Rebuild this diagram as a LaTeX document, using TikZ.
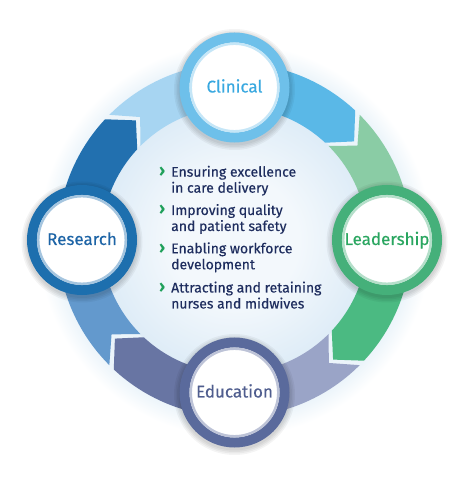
\documentclass[tikz,border=0pt]{standalone}
\usepackage{fontspec}
\setmainfont{Fira Sans}
\newfontfamily\medfont[FakeBold=0.35]{Fira Sans}
\definecolor{halo}{HTML}{EBF4FA}
\definecolor{innerC}{HTML}{F3F8FC}
\definecolor{innerE}{HTML}{DEECF7}
\definecolor{resOut}{HTML}{2270AF}
\definecolor{resIn}{HTML}{6399CD}
\definecolor{clinOut}{HTML}{5AB8E7}
\definecolor{clinIn}{HTML}{A7D5F2}
\definecolor{leadOut}{HTML}{4BBA82}
\definecolor{leadIn}{HTML}{8ACCA5}
\definecolor{eduOut}{HTML}{6875A3}
\definecolor{eduIn}{HTML}{9AA4C7}
\definecolor{resB}{HTML}{1D6FAE}
\definecolor{clinB}{HTML}{6EC0EA}
\definecolor{leadB}{HTML}{45B07A}
\definecolor{eduB}{HTML}{5A6A9C}
\definecolor{resT}{HTML}{1D64A6}
\definecolor{clinT}{HTML}{38A8E0}
\definecolor{leadT}{HTML}{2AA660}
\definecolor{eduT}{HTML}{4F5D8E}
\definecolor{navy}{HTML}{1E2D5E}
\definecolor{bulgreen}{HTML}{1FA05A}
\pgfdeclareradialshading{haloshade}{\pgfpoint{0bp}{0bp}}{color(0bp)=(halo); color(22.3bp)=(halo); color(25bp)=(white); color(50bp)=(white)}
\pgfdeclareradialshading{innershade}{\pgfpoint{0bp}{0bp}}{color(0bp)=(innerC); color(12bp)=(innerC); color(25bp)=(innerE); color(50bp)=(innerE)}
\newcommand\outband[2]{\fill[#2] ({#1}:177) arc[start angle={#1}, end angle={#1-43}, radius=177] -- ({#1-50.5}:155) -- ({#1-43}:133) arc[start angle={#1-43}, end angle={#1}, radius=133] -- cycle;}
\newcommand\inband[2]{\fill[#2] ({#1-45}:177) arc[start angle={#1-45}, end angle={#1-90}, radius=177] -- ({#1-90}:133) arc[start angle={#1-90}, end angle={#1-45}, radius=133] -- ({#1-52.5}:155) -- cycle;}
\begin{document}
\begin{tikzpicture}[x=1pt,y=1pt,
  circ/.style={circle, minimum size=100pt, inner sep=0pt, line width=10pt, fill=white,
    font=\medfont\fontsize{17}{19}\selectfont, text height=10pt, text depth=0pt},
  item/.style={anchor=base west, font=\medfont\fontsize{14}{16}\selectfont, text=navy, inner sep=0pt},
  bul/.style={anchor=base west, font=\bfseries\fontsize{17}{18}\selectfont, text=bulgreen, inner sep=0pt},
  shad/.style={fill=black, opacity=0.045}]
\useasboundingbox (0,0) rectangle (473,479);
\fill[white] (0,0) rectangle (473,479);
\coordinate (O) at (234.5,239);
\shade[shading=haloshade] (O) circle[radius=197];
\shade[shading=innershade] (O) circle[radius=134];
\begin{scope}[shift={(O)}]
  \inband{180}{clinIn}
  \inband{90}{leadIn}
  \inband{0}{eduIn}
  \inband{-90}{resIn}
  \outband{180}{resOut}
  \outband{90}{clinOut}
  \outband{0}{leadOut}
  \outband{-90}{eduOut}
\end{scope}
\coordinate (pC) at (234.5,391.5);
\coordinate (pL) at (387,239);
\coordinate (pE) at (234.5,86.5);
\coordinate (pR) at (82,239);
\foreach \p in {pC,pL,pE,pR}{
  \foreach \r in {56,57.5,59,60.5}{
    \fill[shad] ([yshift=-2]\p) circle[radius=\r];
  }
}
\node[circ, draw=clinB, text=clinT] (clin) at (pC) {Clinical};
\node[circ, draw=leadB, text=leadT] (lead) at (pL) {Leadership};
\node[circ, draw=eduB, text=eduT] (edu) at (pE) {Education};
\node[circ, draw=resB, text=resT] (res) at (pR) {Research};
\draw[clinB!40!white, line width=2.5pt] (clin.center) circle[radius=43.8];
\draw[leadB!40!white, line width=2.5pt] (lead.center) circle[radius=43.8];
\draw[eduB!40!white, line width=2.5pt] (edu.center) circle[radius=43.8];
\draw[resB!40!white, line width=2.5pt] (res.center) circle[radius=43.8];
% bullets
\node[bul] (g1) at (159,302.3) {›};
\node[item] (t1a) at (171,302.3) {Ensuring excellence};
\node[item] (t1b) at (171,286.3) {in care delivery};
\node[bul] (g2) at (159,264) {›};
\node[item] (t2a) at (171,264) {Improving quality};
\node[item] (t2b) at (171,248) {and patient safety};
\node[bul] (g3) at (159,225.7) {›};
\node[item] (t3a) at (171,225.7) {Enabling workforce};
\node[item] (t3b) at (171,209.7) {development};
\node[bul] (g4) at (159,186.5) {›};
\node[item] (t4a) at (171,186.5) {Attracting and retaining};
\node[item] (t4b) at (171,170.5) {nurses and midwives};
\end{tikzpicture}
\end{document}
